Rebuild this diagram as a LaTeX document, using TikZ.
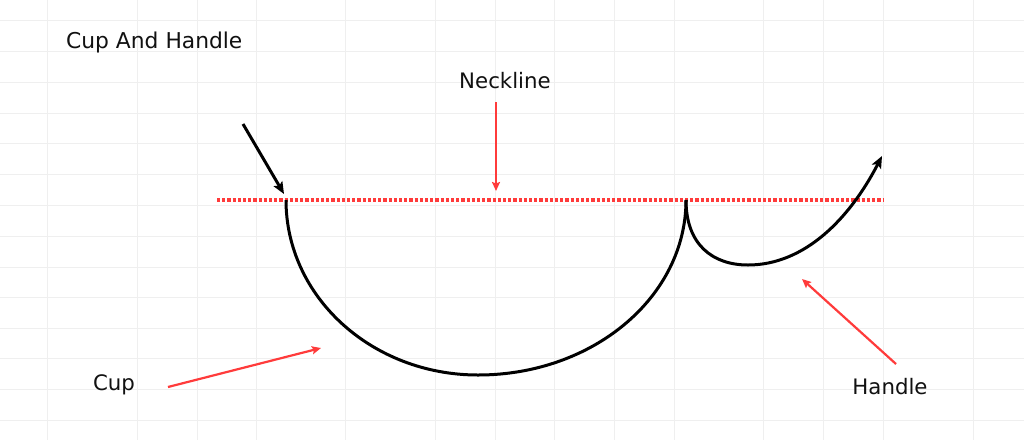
\documentclass[tikz,border=0pt]{standalone}
\usepackage{fontspec}
\setmainfont{DejaVu Sans}
\usetikzlibrary{arrows.meta}
\definecolor{gridc}{HTML}{EFEFEF}
\definecolor{redc}{HTML}{FF3B3B}
\definecolor{txt}{HTML}{111111}
\tikzset{
  gridline/.style={draw=gridc, line width=0.8pt},
  lbl/.style={font=\fontsize{21.3}{24}\selectfont, text=txt, inner sep=0pt},
  blackarrow/.style={draw=black, line width=3pt, -{Stealth[length=12pt,width=10pt,inset=2.5pt]}},
  blackline/.style={draw=black, line width=3pt},
  redarrow/.style={draw=redc, line width=2.2pt, -{Stealth[length=9pt,width=8pt,inset=1.5pt]}},
  neck/.style={draw=redc, line width=3.2pt, dash pattern=on 3.2pt off 2pt},
}
\begin{document}
\begin{tikzpicture}[x=1pt,y=-1pt]
\useasboundingbox (0,0) rectangle (1024,440);
\fill[white] (0,0) rectangle (1024,440);
% grid
\foreach \gx in {47,137,197,256,345,435,495,554,614,674,763,823,883,973}
  \draw[gridline] (\gx,0) -- (\gx,440);
\foreach \gy in {20,51,82,113,143,174,205,236,267,297,328,358,389,420}
  \draw[gridline] (0,\gy) -- (1024,\gy);
% labels
\node[lbl, font=\fontsize{21.8}{24}\selectfont, anchor=west] (title) at (66,42) {Cup And Handle};
\node[lbl] (neckline) at (505,81) {Neckline};
\node[lbl] (cup) at (114,385) {Cup};
\node[lbl] (handle) at (890,387) {Handle};
% coordinates
\coordinate (nlL) at (217,200);
\coordinate (nlR) at (883,200);
\coordinate (cupL) at (286,200);
\coordinate (cupB) at (478,375);
\coordinate (cupR) at (686,200);
\coordinate (hB) at (748,265);
\coordinate (hEnd) at (882,156);
\coordinate (inS) at (243,124);
\coordinate (inE) at (284,194);
\coordinate (nkS) at (496,102);
\coordinate (nkE) at (496,191);
\coordinate (cpS) at (168,387);
\coordinate (cpE) at (321,348);
\coordinate (hdS) at (896,364);
\coordinate (hdE) at (802,279);
% neckline
\draw[neck] (nlL) -- (nlR);
% cup and handle
\draw[blackline] (cupL) .. controls (286,297) and (372,375) .. (cupB)
  .. controls (593,375) and (686,297) .. (cupR);
\draw[blackarrow] (cupR) .. controls (686,245) and (713,265) .. (hB)
  .. controls (805,265) and (850,218) .. (hEnd);
% incoming arrow
\draw[blackarrow] (inS) -- (inE);
% red pointers
\draw[redarrow] (nkS) -- (nkE);
\draw[redarrow] (cpS) -- (cpE);
\draw[redarrow] (hdS) -- (hdE);
\end{tikzpicture}
\end{document}
